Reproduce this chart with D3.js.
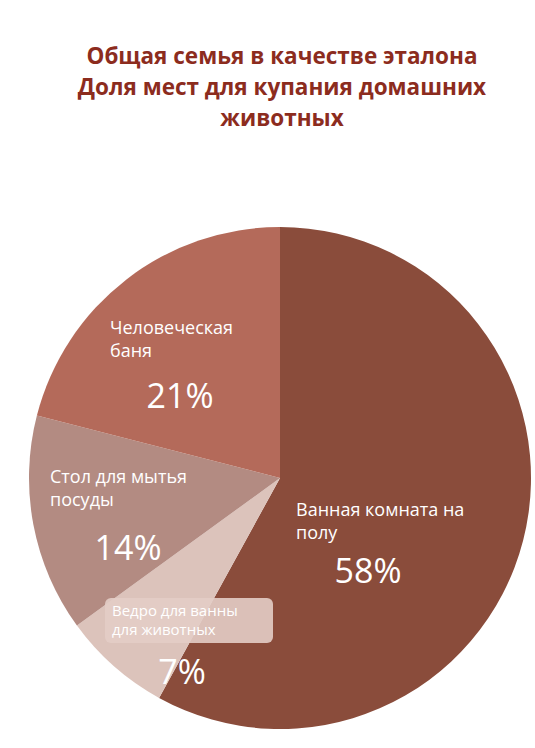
<!DOCTYPE html>
<html><head><meta charset="utf-8">
<script src="https://cdn.jsdelivr.net/npm/d3@7"></script>
<style>body{margin:0;background:#fff}</style></head>
<body><svg id="c" width="535" height="748"></svg>
<script>
const titleLines = ["Общая семья в качестве эталона","Доля мест для купания домашних","животных"];
const categories = [["Ванная комната на","полу"],["Ведро для ванны","для животных"],["Стол для мытья","посуды"],["Человеческая","баня"]];
const values = [58,7,14,21];
const colors = ["#8a4c3b","#dcc3bb","#b38b82","#b46a5a"];
const svg = d3.select("#c");
const font = "'Open Sans', 'Noto Sans', sans-serif";
svg.selectAll("text.t").data(titleLines).join("text")
  .attr("x",282).attr("y",(d,i)=>64+i*31).attr("text-anchor","middle")
  .attr("font-family",font).attr("font-weight","bold").attr("font-size",22.5)
  .attr("fill","#8c2c1e").text(d=>d);
const cx=280, cy=478, r=251;
const pie = d3.pie().sort(null)(values);
const arc = d3.arc().innerRadius(0).outerRadius(r);
const g = svg.append("g").attr("transform",`translate(${cx},${cy})`);
g.selectAll("path").data(pie).join("path").attr("d",arc).attr("fill",(d,i)=>colors[i]);
const labelPos = [[296,516,368,583],[112,616,182,684],[50,483,128,560],[110,334,180,408]];
pie.forEach((d,i)=>{
  const [lx,ly,px,py]=labelPos[i];
  if(i===1){
    svg.append("rect").attr("x",105).attr("y",598).attr("width",168).attr("height",45).attr("rx",6).attr("fill","#e3cdc6").attr("opacity",0.9);
  }
  categories[i].forEach((t,j)=>svg.append("text").attr("x",lx).attr("y",ly+j*(i===1?19:23))
    .attr("font-family",font).attr("font-size",i===1?15:18).attr("fill","#fff").text(t));
  svg.append("text").attr("x",px).attr("y",py).attr("text-anchor","middle")
    .attr("font-family",font).attr("font-size",34).attr("fill","#fff").text(values[i]+"%");
});
</script></body></html>
